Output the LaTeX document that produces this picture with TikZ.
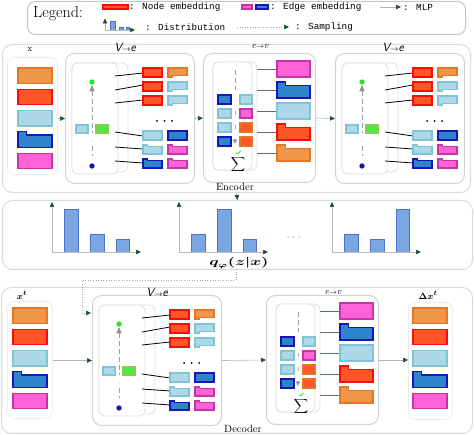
\documentclass[tikz,border=0pt]{standalone}
\usepackage{fontspec}
\newfontfamily\legendfont{Liberation Mono}
\usetikzlibrary{arrows.meta}

\definecolor{orangeF}{RGB}{240,150,72}
\definecolor{orangeD}{RGB}{228,118,38}
\definecolor{redF}{RGB}{255,86,40}
\definecolor{redD}{RGB}{248,12,12}
\definecolor{lblueF}{RGB}{172,216,232}
\definecolor{lblueD}{RGB}{128,194,214}
\definecolor{blueF}{RGB}{46,132,202}
\definecolor{blueD}{RGB}{22,22,182}
\definecolor{magF}{RGB}{255,98,214}
\definecolor{magD}{RGB}{198,52,168}
\definecolor{greenF}{RGB}{72,236,62}
\definecolor{greenD}{RGB}{140,200,82}
\definecolor{dotgreen}{RGB}{40,228,40}
\definecolor{barF}{RGB}{122,166,226}
\definecolor{barD}{RGB}{82,112,200}
\definecolor{arrowG}{RGB}{30,80,42}
\definecolor{linkG}{RGB}{90,112,102}

\tikzset{
  mlp/.style={draw=gray!60, line width=0.6pt, -{Triangle[length=5pt,width=4.5pt,color=arrowG]}},
  sampling/.style={draw=gray!70, line width=0.6pt, dotted, -{Triangle[length=5pt,width=4.5pt,color=arrowG]}},
  blockbox/.style={draw=gray!35, line width=1pt, rounded corners=9pt, fill=white, inner sep=0pt},
  outerbox/.style={draw=gray!28, line width=1pt, rounded corners=10pt, inner sep=0pt},
  colbox/.style={draw=gray!15, line width=0.8pt, rounded corners=7pt, inner sep=0pt},
  cardline/.style={draw=gray!25, line width=0.8pt, rounded corners=6pt},
  dashline/.style={draw=gray!75, line width=0.7pt, dash pattern=on 5pt off 3pt},
  link/.style={draw=black, line width=0.8pt},
  linkb/.style={draw=linkG, line width=0.8pt},
  bar/.style={draw=barD, line width=0.5pt, fill=barF},
  axis/.style={draw=gray!55, line width=0.5pt},
  axisarrow/.style={axis, -{Triangle[length=5pt,width=4.5pt,color=arrowG]}},
  legendtext/.style={anchor=west, inner sep=0pt, font=\legendfont\fontsize{9.3}{9.3}\selectfont},
  vtitle/.style={inner sep=0pt, font=\sffamily\itshape\fontsize{12}{12}\selectfont},
  etitle/.style={inner sep=0pt, font=\itshape\fontsize{9.5}{9.5}\selectfont},
  mathlabel/.style={inner sep=0pt, font=\boldmath\fontsize{9.5}{9.5}\selectfont},
}

% plain embedding
\def\emb(#1,#2)(#3,#4)#5#6{\draw[line width=1.2pt, draw=#6, fill=#5] (#1,#2) rectangle (#3,#4);}
% embedding with a tab on the upper left
\def\folder(#1,#2)(#3,#4)#5#6{\draw[line width=1.2pt, draw=#6, fill=#5] (#1,#2) -- ({#1+0.25*(#3-#1)},#2) -- ({#1+0.25*(#3-#1)},{#2+0.2*(#4-#2)}) -- (#3,{#2+0.2*(#4-#2)}) -- (#3,#4) -- (#1,#4) -- cycle;}
% embedding with a tab on the lower left
\def\lfolder(#1,#2)(#3,#4)#5#6{\draw[line width=1.2pt, draw=#6, fill=#5] (#1,#2) -- (#3,#2) -- (#3,{#4-0.2*(#4-#2)}) -- ({#1+0.25*(#3-#1)},{#4-0.2*(#4-#2)}) -- ({#1+0.25*(#3-#1)},#4) -- (#1,#4) -- cycle;}

% column of node embeddings: name, top left, box width, x offset, y offset
\def\embcol#1(#2,#3)#4#5#6{%
  \node[colbox, minimum width=#4pt, minimum height=117pt, anchor=north west] (#1) at (#2,#3) {};
  \begin{scope}[shift={(#2+#5,#3+#6)}]
    \emb(0,0)(34,15.5){orangeF}{orangeD}
    \emb(0,21.3)(34,36.8){redF}{redD}
    \emb(0,42.6)(34,58.1){lblueF}{lblueD}
    \folder(0,63.9)(34,79.4){blueF}{blueD}
    \emb(0,85.2)(34,100.7){magF}{magD}
  \end{scope}}

% node to edge block
\def\vtoe#1(#2,#3){%
  \node[blockbox, minimum width=129pt, minimum height=130pt, anchor=north west] (#1) at (#2,#3) {};
  \begin{scope}[shift={(#2,#3)}]
    \draw[cardline] (7,10) rectangle (63,119);
    \draw[cardline, fill=white] (7,10) rectangle (53,121);
    \draw[dashline] (27,38) -- (27,80);
    \draw[dashline] (27,93) -- (27,103);
    \fill[gray!60] (27,88) circle (0.6);
    \fill[gray!85] (24.2,38.5) -- (29.8,38.5) -- (27,32) -- cycle;
    \fill[dotgreen] (27,29) circle (2.7);
    \fill[blueD] (27,113) circle (2.7);
    \emb(11,72)(23,80){lblueF}{lblueD}
    \emb(31,72)(43,80){greenF}{greenD}
    \foreach \a/\b in {23/20,37/32,50/47,79/83,94/96,108/110}
      \draw[link] (50,\a) -- (78,\b);
    \emb(78,15)(97,24){redF}{redD}
    \emb(78,29)(97,38){redF}{redD}
    \emb(78,43)(97,52){redF}{redD}
    \emb(78,78)(97,87){lblueF}{lblueD}
    \folder(78,92)(97,101){lblueF}{lblueD}
    \folder(78,106)(97,115){blueF}{blueD}
    \lfolder(103,15)(122,24){orangeF}{orangeD}
    \lfolder(103,29)(122,38){lblueF}{lblueD}
    \lfolder(103,43)(122,52){lblueF}{lblueD}
    \emb(103,78)(122,87){blueF}{blueD}
    \folder(103,92)(122,101){magF}{magD}
    \folder(103,106)(122,115){magF}{magD}
    \foreach \d in {92,99.5,107} \fill (\d,68) circle (1);
  \end{scope}}

% edge to node block
\def\etov#1(#2,#3){%
  \node[blockbox, minimum width=112pt, minimum height=129pt, anchor=north west] (#1) at (#2,#3) {};
  \begin{scope}[shift={(#2,#3)}]
    \draw[cardline] (10,9) rectangle (54,117);
    \draw[cardline, fill=white] (10,9) rectangle (49,117);
    \draw[dashline] (32,17) -- (32,37);
    \emb(15,42)(28,51){blueF}{blueD}
    \emb(15,56)(28,65){lblueF}{lblueD}
    \emb(15,70)(28,79){lblueF}{lblueD}
    \emb(15,84)(28,93){blueF}{blueD}
    \emb(37,42)(49,51){lblueF}{lblueD}
    \emb(37,56)(49,65){magF}{magD}
    \emb(37,70)(49,79){redF}{orangeD}
    \emb(37,84)(49,93){redF}{orangeD}
    \draw[gray!60, line width=0.6pt] (32,58) -- (32,62) (32,72) -- (32,76);
    \fill[gray!85] (29.8,86.5) -- (34.2,86.5) -- (32,91) -- cycle;
    \node[inner sep=0pt, font=\fontsize{16}{16}\selectfont] (#1-sum) at (35,112) {$\displaystyle\sum$};
    \draw[dotgreen, line width=0.9pt] (33,100.5) .. controls (35,101) and (36.5,100) .. (37.5,98);
    \foreach \y in {16,37,58,79,100}
      \draw[linkb] (54,\y) -- (74,\y);
    \emb(74,8)(107,24){magF}{magD}
    \folder(74,29)(107,45){blueF}{blueD}
    \emb(74,50)(107,66){lblueF}{lblueD}
    \folder(74,71)(107,87){redF}{redD}
    \folder(74,92)(107,108){orangeF}{orangeD}
  \end{scope}}

% one bar chart: left x, three bar heights
\def\distchart(#1)#2#3#4{%
  \begin{scope}[shift={(#1,252)}]
    \draw[bar] (12.5,0) rectangle (26,-#2);
    \draw[bar] (38.5,0) rectangle (52,-#3);
    \draw[bar] (64,0) rectangle (77,-#4);
    \draw[axisarrow] (0,0) -- (0,-50);
    \draw[axisarrow] (0,0) -- (89,0);
  \end{scope}}

\begin{document}
\begin{tikzpicture}[x=1pt,y=-1pt]
		%%%%% START %%%%%
		\useasboundingbox (0,0) rectangle (474,435);
		
		% legend
		\node[outerbox, draw=gray!45, rounded corners=8pt, minimum width=438pt, minimum height=33pt, anchor=north west] (legend) at (27,1) {};
		\node[inner sep=0pt, font=\fontsize{16}{16}\selectfont] (legendtitle) at (58,14) {Legend:};
		\emb(103,5)(128,9){redF}{redD}
		\node[legendtext] (nodeemb) at (129,7) {: Node embedding};
		\emb(242,5)(252,9){magF}{magD}
		\emb(256,5)(268,9){blueF}{blueD}
		\node[legendtext] (edgeemb) at (270,7) {: Edge embedding};
		\coordinate (mlpa) at (380,7);
		\coordinate (mlpb) at (401,7);
		\draw[mlp] (mlpa) -- (mlpb);
		\node[legendtext] (mlptext) at (403,7) {: MLP};
		\draw[bar] (110.5,21) rectangle (115,30);
		\draw[bar] (119.5,27) rectangle (123,30);
		\draw[bar] (126,27.5) rectangle (129.5,30);
		\draw[axisarrow] (105,30) -- (105,18.5);
		\draw[axisarrow] (105,30) -- (135,30);
		\node[legendtext] (disttext) at (145,27) {: Distribution};
		\coordinate (sampa) at (237,27);
		\coordinate (sampb) at (289,27);
		\draw[sampling] (sampa) -- (sampb);
		\node[legendtext] (samptext) at (295,27) {: Sampling};
		
		% encoder
		\node[outerbox, minimum width=468pt, minimum height=148pt, anchor=north west] (encbox) at (2,44) {};
		\node[inner sep=0pt, font=\fontsize{9.5}{9.5}\selectfont] (xlabel) at (30,49) {x};
		\embcol{xcol}(7,57){50}{11}{11}
		\vtoe{enc1}(65,53)
		\etov{enc2}(203,53)
		\vtoe{enc3}(335,53)
		\node[vtitle] (enc1title) at (125,47.5) {V${\scriptstyle\rightarrow}$e};
		\node[etitle] (enc2title) at (260,46) {e${\scriptstyle\rightarrow}$v};
		\node[vtitle] (enc3title) at (393,47) {V${\scriptstyle\rightarrow}$e};
		\node[inner sep=0pt, font=\fontsize{10.5}{10.5}\selectfont] (enclabel) at (235,187) {Encoder};
		\draw[mlp] (xcol.east |- enc1.west) -- (enc1.west);
		\draw[mlp] (enc1.east) -- (enc2.west);
		\draw[mlp] (enc2.east) -- (enc3.west);
		
		% distributions
		\node[outerbox, minimum width=470pt, minimum height=69pt, anchor=north west] (distbox) at (2,200) {};
		\draw[mlp] (encbox.south) -- (distbox.north);
		\distchart(52){43}{18}{13}
		\distchart(179){18}{43}{13}
		\distchart(332){18}{13}{43}
		\foreach \d in {288,293.5,299} \fill[gray] (\d,237) circle (0.6);
		\node[inner sep=0pt] (qlabel) at (239,263) {\scalebox{1.5}[1]{\fontsize{10.5}{10.5}\selectfont\boldmath$q_{\varphi}(z|x)$}};
		
		% decoder
		\node[outerbox, minimum width=471pt, minimum height=146pt, anchor=north west] (decbox) at (1,287) {};
		\node[mathlabel] (xtlabel) at (22,295) {$x^{t}$};
		\embcol{xtcol}(7,301){45}{6}{7}
		\vtoe{dec1}(92,295)
		\etov{dec2}(266,295)
		\embcol{dxcol}(408,302){44}{5}{6}
		\node[mathlabel] (dxlabel) at (428,295) {$\Delta x^{t}$};
		\node[vtitle] (dec1title) at (157,292.5) {V${\scriptstyle\rightarrow}$e};
		\node[etitle] (dec2title) at (333,292.5) {e${\scriptstyle\rightarrow}$v};
		\node[inner sep=0pt, font=\fontsize{10.5}{10.5}\selectfont] (declabel) at (243,429) {Decoder};
		\draw[mlp] (xtcol.east |- dec1.west) -- (dec1.west);
		\draw[mlp] (dec1.east) -- (dec2.west);
		\draw[mlp] (dec2.east) -- (dxcol.west |- dec2.east);
		
		% sampling
		\coordinate (sampstart) at (236,269);
		\coordinate (sampturn) at (82,280);
		\coordinate (sampin) at (91,313);
		\draw[sampling] (sampstart) |- (sampturn) |- (sampin);
		
		%%%%% END %%%%%
	\end{tikzpicture}
\end{document}
